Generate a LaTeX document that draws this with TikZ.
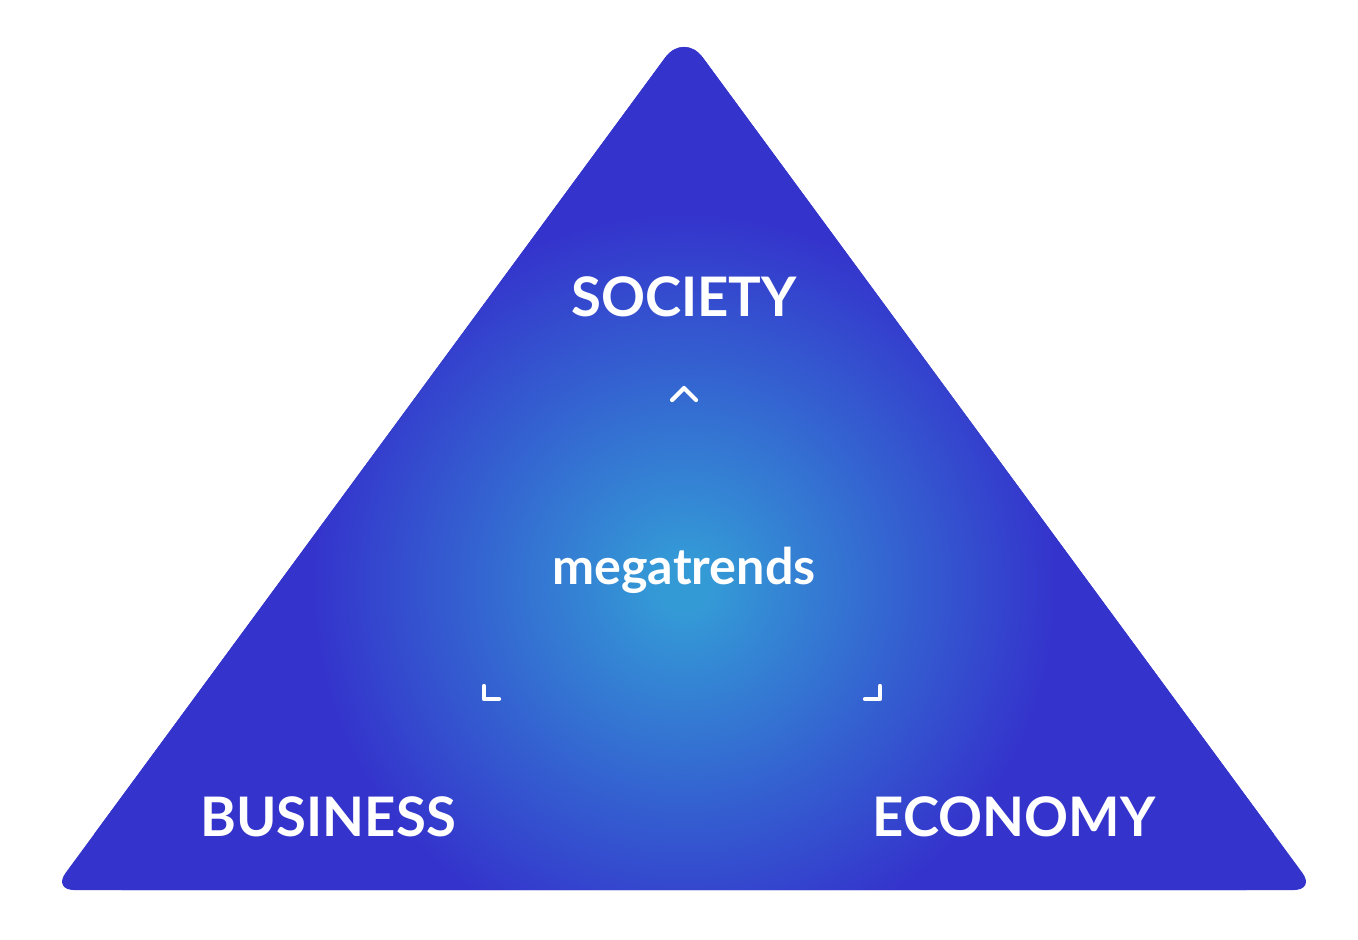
\documentclass[tikz,border=0pt]{standalone}
\usepackage{fontspec}
\setmainfont{Lato}
\definecolor{triblue}{RGB}{52,52,204}
\definecolor{glow}{RGB}{52,154,214}
\pgfdeclareradialshading{centreglow}{\pgfpoint{0bp}{0bp}}{color(0bp)=(glow); color(1bp)=(glow); color(14.5bp)=(triblue); color(50bp)=(triblue)}
\begin{document}
\begin{tikzpicture}[x=0.01cm,y=-0.01cm,
  word/.style={text=white, font=\fontsize{15.5}{18}\selectfont\bfseries},
  tip/.style={draw=white, line width=1.2pt, line cap=round, line join=round}]
  \useasboundingbox (0,0) rectangle (1358,939);
  \coordinate (top) at (684,32);
  \coordinate (left) at (53,890);
  \coordinate (right) at (1315,890);
  \coordinate (base) at (684,890);
  \fill[triblue] (base) [rounded corners=6pt] -- (left) [rounded corners=9pt] -- (top) [rounded corners=6pt] -- (right) -- cycle;
  \begin{scope}
    \clip (base) [rounded corners=6pt] -- (left) [rounded corners=9pt] -- (top) [rounded corners=6pt] -- (right) -- cycle;
    \shade[shading=centreglow] (684,585) circle (640);
  \end{scope}
  \node[word] (society) at (684,297) {SOCIETY};
  \node[word] (business) at (328,817) {BUSINESS};
  \node[word] (economy) at (1014,817) {ECONOMY};
  \node[text=white, font=\fontsize{14.3}{16}\selectfont\bfseries] (mega) at (684,570) {megatrends};
  % small arrowheads round the centre
  \draw[tip] (672,400) -- (684,388) -- (696,400);
  \draw[tip] (484,686) -- (484,699) -- (499,699);
  \draw[tip] (880,686) -- (880,699) -- (865,699);
\end{tikzpicture}
\end{document}
